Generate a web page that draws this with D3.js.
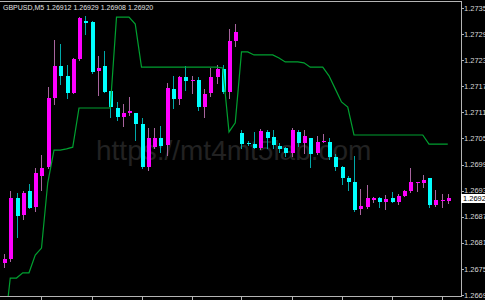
<!DOCTYPE html>
<html>
<head>
<meta charset="utf-8">
<script src="https://cdn.jsdelivr.net/npm/d3@7"></script>
<style>
  html, body { margin: 0; padding: 0; background: #000; }
  svg { display: block; }
</style>
</head>
<body>
<div id="chart"></div>
<script>

// Chart data (GBPUSD M5 bars, oldest first)

const symbol = "GBPUSD,M5";

const barOpen = [
  1.26770, 1.26779, 1.26919, 1.26880, 1.26935, 1.26898, 1.26970, 1.26990, 1.27149, 1.27223,
  1.27200, 1.27161, 1.27239, 1.27326, 1.27324, 1.27211, 1.27223, 1.27165, 1.27126, 1.27105,
  1.27115, 1.27115, 1.27089, 1.26990, 1.27036, 1.27057, 1.27041, 1.27170, 1.27147, 1.27197,
  1.27188, 1.27190, 1.27128, 1.27161, 1.27197, 1.27216, 1.27163, 1.27280, 1.27069, 1.27046,
  1.27043, 1.27034, 1.27071, 1.27059, 1.27039, 1.27034, 1.27023, 1.27071, 1.27046, 1.27057,
  1.27023, 1.27048, 1.27048, 1.27013, 1.26990, 1.26965, 1.26956, 1.26894, 1.26898, 1.26914,
  1.26919, 1.26910, 1.26919, 1.26910, 1.26924, 1.26935, 1.26954, 1.26954, 1.26965, 1.26903,
  1.26912, 1.26912
];

const barHigh = [
  1.26790, 1.26935, 1.26931, 1.26935, 1.26951, 1.26988, 1.27018, 1.27174, 1.27282, 1.27273,
  1.27225, 1.27241, 1.27335, 1.27338, 1.27326, 1.27246, 1.27257, 1.27165, 1.27140, 1.27135,
  1.27151, 1.27115, 1.27103, 1.27080, 1.27080, 1.27085, 1.27184, 1.27200, 1.27200, 1.27223,
  1.27200, 1.27197, 1.27170, 1.27218, 1.27225, 1.27225, 1.27308, 1.27319, 1.27075, 1.27050,
  1.27071, 1.27078, 1.27075, 1.27075, 1.27046, 1.27036, 1.27080, 1.27075, 1.27075, 1.27057,
  1.27062, 1.27066, 1.27057, 1.27020, 1.26993, 1.26970, 1.27016, 1.26940, 1.26949, 1.26921,
  1.26921, 1.26926, 1.26933, 1.26928, 1.26937, 1.26988, 1.26956, 1.26972, 1.26965, 1.26937,
  1.26928, 1.26929
];

const barLow = [
  1.26760, 1.26774, 1.26829, 1.26871, 1.26896, 1.26889, 1.26937, 1.26988, 1.27135, 1.27181,
  1.27149, 1.27161, 1.27236, 1.27296, 1.27207, 1.27156, 1.27163, 1.27105, 1.27098, 1.27085,
  1.27110, 1.27052, 1.26988, 1.26983, 1.27034, 1.27025, 1.27018, 1.27126, 1.27135, 1.27167,
  1.27161, 1.27121, 1.27105, 1.27154, 1.27184, 1.27161, 1.27149, 1.27269, 1.27034, 1.27041,
  1.27034, 1.27032, 1.27034, 1.27034, 1.27025, 1.27016, 1.27016, 1.27039, 1.27023, 1.26990,
  1.27020, 1.27048, 1.27009, 1.26983, 1.26951, 1.26937, 1.26889, 1.26882, 1.26896, 1.26910,
  1.26898, 1.26894, 1.26910, 1.26905, 1.26924, 1.26933, 1.26935, 1.26944, 1.26898, 1.26901,
  1.26898, 1.26908
];

const barClose = [
  1.26779, 1.26919, 1.26878, 1.26931, 1.26896, 1.26977, 1.26988, 1.27149, 1.27223, 1.27200,
  1.27161, 1.27239, 1.27333, 1.27322, 1.27209, 1.27218, 1.27163, 1.27128, 1.27105, 1.27115,
  1.27119, 1.27089, 1.26990, 1.27057, 1.27057, 1.27039, 1.27172, 1.27147, 1.27197, 1.27188,
  1.27190, 1.27128, 1.27158, 1.27197, 1.27216, 1.27163, 1.27280, 1.27301, 1.27043, 1.27043,
  1.27034, 1.27073, 1.27057, 1.27041, 1.27032, 1.27023, 1.27075, 1.27046, 1.27062, 1.27020,
  1.27048, 1.27050, 1.27013, 1.26990, 1.26965, 1.26956, 1.26891, 1.26901, 1.26919, 1.26919,
  1.26910, 1.26917, 1.26910, 1.26924, 1.26935, 1.26956, 1.26956, 1.26960, 1.26903, 1.26914,
  1.26914, 1.26920
];

// Green indicator line, one value per bar
const indicator = [
  1.26606, 1.26735, 1.26735, 1.26747, 1.26747, 1.26788, 1.26804, 1.26954, 1.27029, 1.27029,
  1.27032, 1.27036, 1.27126, 1.27126, 1.27126, 1.27126, 1.27126, 1.27126, 1.27335, 1.27335,
  1.27335, 1.27319, 1.27220, 1.27220, 1.27220, 1.27220, 1.27220, 1.27220, 1.27220, 1.27220,
  1.27220, 1.27220, 1.27220, 1.27220, 1.27220, 1.27218, 1.27071, 1.27092, 1.27255, 1.27255,
  1.27248, 1.27248, 1.27248, 1.27248, 1.27241, 1.27232, 1.27232, 1.27232, 1.27230, 1.27220,
  1.27220, 1.27220, 1.27200, 1.27170, 1.27140, 1.27128, 1.27064, 1.27064, 1.27064, 1.27064,
  1.27064, 1.27064, 1.27064, 1.27064, 1.27064, 1.27064, 1.27064, 1.27064, 1.27043, 1.27043,
  1.27043, 1.27043
];

const priceTicks = [
  1.26696, 1.26756, 1.26816, 1.26876, 1.26936, 1.26996,
  1.27056, 1.27116, 1.27176, 1.27236, 1.27296, 1.27356
];

const timeTickBars = [6, 14, 22, 30, 38, 46, 54, 62, 70];

const watermark = "https://mt4mt5lab.com";

// Layout

const width = 485;
const height = 300;
const frame = { left: 0, right: 461, top: 1, bottom: 296 };

const svg = d3.select("#chart").append("svg")
  .attr("width", width)
  .attr("height", height)
  .style("font-family", "'Liberation Sans', Arial, sans-serif");

svg.append("rect")
  .attr("width", width)
  .attr("height", height)
  .attr("fill", "#000");

const x = d3.scaleLinear().domain([0, barOpen.length - 1]).range([4, 447.75]);
const y = d3.scaleLinear().domain([priceTicks[0], priceTicks[priceTicks.length - 1]]).range([295, 8]);

const bars = barOpen.map((o, i) => ({
  i: i, open: o, high: barHigh[i], low: barLow[i], close: barClose[i],
  up: barClose[i] >= o
}));

// Watermark

svg.append("text")
  .attr("x", 96)
  .attr("y", 160)
  .attr("fill", "#222222")
  .style("font-size", "28px")
  .text(watermark);

// Plot area clip

svg.append("clipPath")
  .attr("id", "plot-clip")
  .append("rect")
  .attr("x", frame.left)
  .attr("y", frame.top)
  .attr("width", frame.right - frame.left)
  .attr("height", frame.bottom - frame.top);

const plot = svg.append("g").attr("clip-path", "url(#plot-clip)");

// Candles

const candle = plot.append("g")
  .attr("shape-rendering", "crispEdges")
  .selectAll(".candle")
  .data(bars)
  .enter()
  .append("g")
  .attr("class", "candle");

candle.append("line")
  .attr("x1", d => Math.round(x(d.i)) + 0.5)
  .attr("x2", d => Math.round(x(d.i)) + 0.5)
  .attr("y1", d => Math.round(y(d.high)))
  .attr("y2", d => Math.round(y(d.low)) + 1)
  .attr("stroke", d => d.up ? "#a8649e" : "#00a8a8")
  .attr("stroke-width", 1);

candle.append("rect")
  .attr("x", d => Math.round(x(d.i)) - 1.5)
  .attr("y", d => Math.round(y(Math.max(d.open, d.close))))
  .attr("width", 4)
  .attr("height", d => Math.max(1, Math.round(y(Math.min(d.open, d.close))) - Math.round(y(Math.max(d.open, d.close)))))
  .attr("fill", d => d.up ? "#ff00ff" : "#00ffff");

// Indicator line

const line = d3.line()
  .x((d, i) => x(i))
  .y(d => y(d));

plot.append("path")
  .datum(indicator)
  .attr("d", line)
  .attr("fill", "none")
  .attr("stroke", "#00a030")
  .attr("stroke-width", 1.2);

// Frame and axes

const frameColor = "#b4b4b4";

svg.append("path")
  .attr("d", "M" + frame.left + "," + (frame.top + 0.5) + "H" + (frame.right + 0.5) +
    "V" + (frame.bottom + 0.5) + "H" + frame.left)
  .attr("fill", "none")
  .attr("stroke", frameColor)
  .attr("shape-rendering", "crispEdges");

svg.append("g")
  .attr("shape-rendering", "crispEdges")
  .selectAll(".time-tick")
  .data(timeTickBars)
  .enter()
  .append("line")
  .attr("x1", d => Math.round(x(d)) + 0.5)
  .attr("x2", d => Math.round(x(d)) + 0.5)
  .attr("y1", frame.bottom)
  .attr("y2", frame.bottom + 4)
  .attr("stroke", frameColor);

const priceAxis = svg.append("g").attr("class", "price-axis");

priceAxis.selectAll(".price-tick")
  .data(priceTicks)
  .enter()
  .append("line")
  .attr("shape-rendering", "crispEdges")
  .attr("x1", frame.right)
  .attr("x2", frame.right + 3)
  .attr("y1", d => Math.round(y(d)) + 0.5)
  .attr("y2", d => Math.round(y(d)) + 0.5)
  .attr("stroke", frameColor);

priceAxis.selectAll(".price-label")
  .data(priceTicks)
  .enter()
  .append("text")
  .attr("x", frame.right + 3)
  .attr("y", d => y(d))
  .attr("dy", "0.35em")
  .attr("fill", "#d8d8d8")
  .style("font-size", "7.5px")
  .text(d => d.toFixed(5));

// Current price marker

const last = bars[bars.length - 1];

svg.append("rect")
  .attr("x", frame.right)
  .attr("y", Math.round(y(last.close)) - 4)
  .attr("width", width - frame.right)
  .attr("height", 9)
  .attr("fill", "#ffffff");

svg.append("text")
  .attr("x", frame.right + 2)
  .attr("y", y(last.close) + 0.5)
  .attr("dy", "0.35em")
  .attr("fill", "#000")
  .style("font-size", "7.5px")
  .text(last.close.toFixed(5));

// Header

svg.append("text")
  .attr("x", 3)
  .attr("y", 10)
  .attr("fill", "#e0e0e0")
  .style("font-size", "7px")
  .text(symbol + "  " + [last.open, last.high, last.low, last.close].map(v => v.toFixed(5)).join(" "));

</script>
</body>
</html>
